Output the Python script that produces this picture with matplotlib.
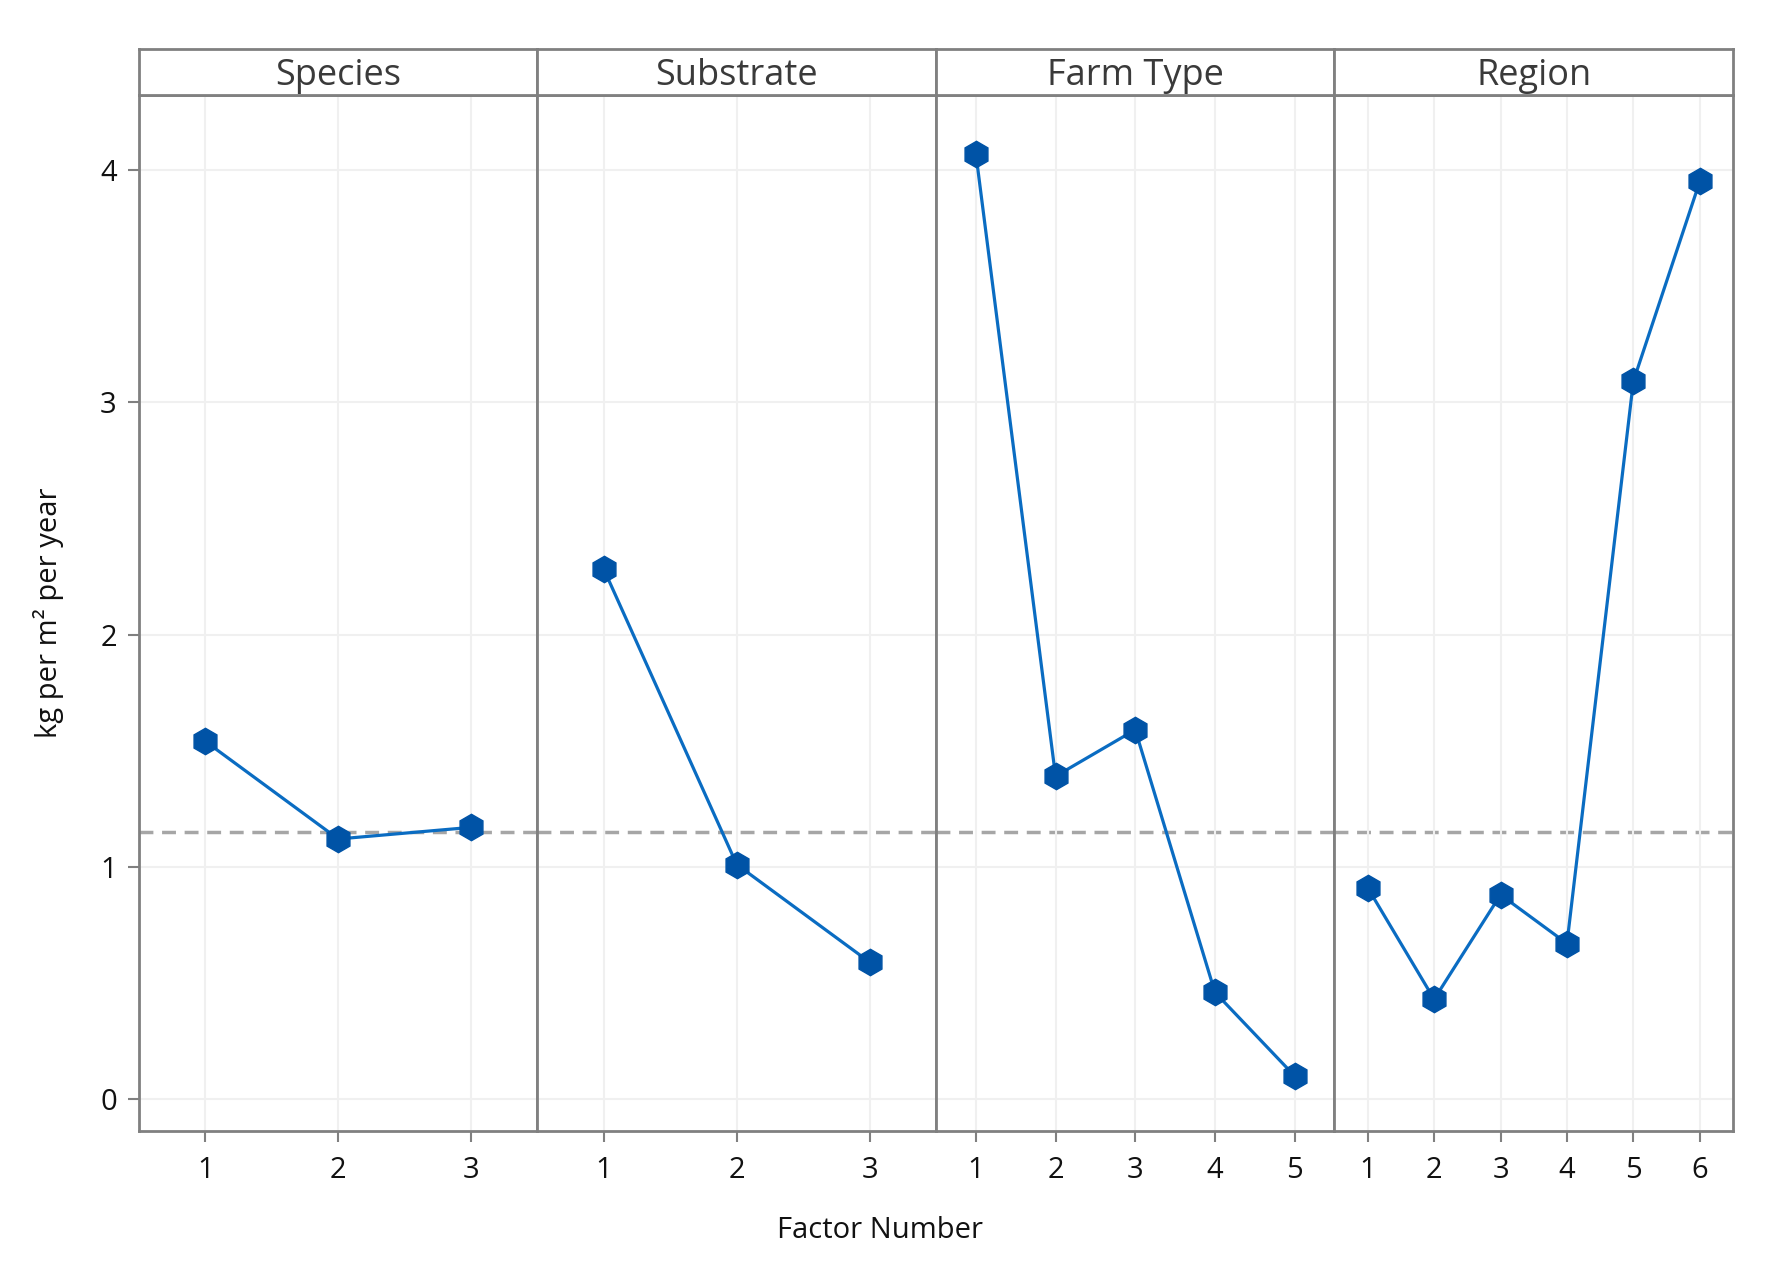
import matplotlib
matplotlib.use("Agg")
import matplotlib.pyplot as plt

# Main effects means
factors = ["Species", "Substrate", "Farm Type", "Region"]
species_means = [1.54, 1.12, 1.17]
substrate_means = [2.28, 1.01, 0.59]
farm_type_means = [4.07, 1.39, 1.59, 0.46, 0.10]
region_means = [0.91, 0.43, 0.88, 0.67, 3.09, 3.95]
overall_mean = 1.15
y_ticks = [0, 1, 2, 3, 4]

panel_means = [species_means, substrate_means, farm_type_means, region_means]

plt.rcParams['font.family'] = ['Open Sans', 'DejaVu Sans']

frame_color = '#808080'
line_color = '#0a6cc2'
marker_color = '#0053a6'

fig = plt.figure(figsize=(17.82, 12.78), dpi=100)

left, right = 0.078, 0.9725
bottom, top = 0.115, 0.9253
strip_h = 0.0364
width = (right - left) / len(factors)

for i, (name, means) in enumerate(zip(factors, panel_means)):
    x0 = left + i * width
    ax = fig.add_axes([x0, bottom, width, top - bottom])
    levels = list(range(1, len(means) + 1))

    ax.grid(True, color='#f0f0f0', linewidth=1.5, zorder=0)
    ax.axhline(overall_mean, color='#a6a6a6', linestyle=(0, (4, 2.5)),
               linewidth=2.5, zorder=1)
    ax.plot(levels, means, color=line_color, linewidth=2.3, zorder=2)
    ax.plot(levels, means, linestyle='none', marker='h', markersize=19,
            color=marker_color, zorder=3)

    ax.set_xlim(0.5, len(means) + 0.5)
    ax.set_ylim(-0.137, 4.32)
    ax.set_xticks(levels)
    ax.set_yticks(y_ticks)
    ax.tick_params(axis='both', colors=frame_color, labelcolor='#111111',
                   labelsize=21, length=8, width=1.5)
    ax.tick_params(axis='x', pad=10)
    ax.tick_params(axis='y', pad=8)
    for spine in ax.spines.values():
        spine.set_color(frame_color)
        spine.set_linewidth(2)
    if i > 0:
        ax.tick_params(axis='y', left=False, labelleft=False)
    if i == 0:
        ax.set_ylabel("kg per m\u00b2 per year", fontsize=21, labelpad=26,
                      color='#111111')

    # Strip header above each panel
    sax = fig.add_axes([x0, top, width, strip_h])
    sax.set_xticks([])
    sax.set_yticks([])
    for spine in sax.spines.values():
        spine.set_color(frame_color)
        spine.set_linewidth(2)
    sax.text(0.5, 0.42, name, ha='center', va='center', fontsize=26,
             color='#3a3a3a', transform=sax.transAxes)

fig.text(0.494, 0.037, "Factor Number", ha='center',
         va='center', fontsize=21, color='#111111')

fig.savefig("out.png", dpi=100, facecolor='white')
